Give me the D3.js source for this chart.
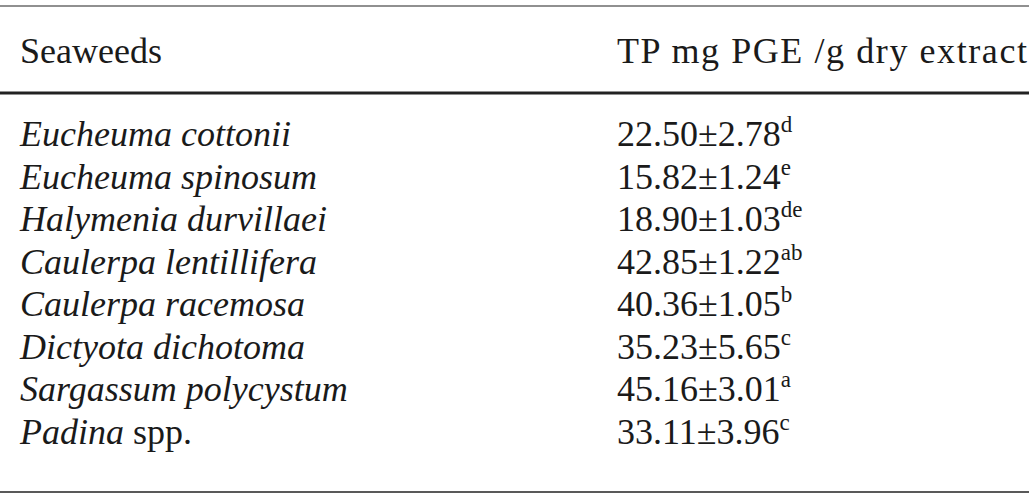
<!DOCTYPE html>
<html><head><meta charset="utf-8">
<script src="https://cdn.jsdelivr.net/npm/d3@7"></script>
<style>body{margin:0;background:#fff}text{font-family:"Liberation Serif","DejaVu Serif",serif;fill:#1a1a1a}</style>
</head><body>
<svg id="chart" width="1029" height="504"></svg>
<script>
// table content
const headers = ["Seaweeds", "TP mg PGE /g dry extract"];
const seaweeds = ["Eucheuma cottonii", "Eucheuma spinosum", "Halymenia durvillaei", "Caulerpa lentillifera",
  "Caulerpa racemosa", "Dictyota dichotoma", "Sargassum polycystum", "Padina"];
const suffixes = ["", "", "", "", "", "", "", " spp."];
const means = ["22.50", "15.82", "18.90", "42.85", "40.36", "35.23", "45.16", "33.11"];
const sds = ["2.78", "1.24", "1.03", "1.22", "1.05", "5.65", "3.01", "3.96"];
const letters = ["d", "e", "de", "ab", "b", "c", "a", "c"];

const svg = d3.select("#chart");
const fs = 36;
const y = d3.scalePoint().domain(d3.range(seaweeds.length)).range([146, 444]);
const colX = [20, 617];

svg.append("line").attr("x1", 0).attr("x2", 1029).attr("y1", 6).attr("y2", 6).attr("stroke", "#222").attr("stroke-width", 1.2);
svg.append("line").attr("x1", 0).attr("x2", 1029).attr("y1", 93).attr("y2", 93).attr("stroke", "#222").attr("stroke-width", 3);
svg.append("line").attr("x1", 0).attr("x2", 1029).attr("y1", 492).attr("y2", 492).attr("stroke", "#222").attr("stroke-width", 1.6);

svg.selectAll("text.head").data(headers).join("text").attr("class", "head")
  .attr("x", (d, i) => colX[i]).attr("y", 63).attr("font-size", fs)
  .attr("textLength", (d, i) => i === 1 ? 410 : null).text(d => d);

const rows = svg.selectAll("g.row").data(seaweeds).join("g").attr("class", "row");
const name = rows.append("text").attr("x", colX[0]).attr("y", (d, i) => y(i)).attr("font-size", fs);
name.append("tspan").attr("font-style", "italic").text(d => d);
name.append("tspan").text((d, i) => suffixes[i]);

const val = rows.append("text").attr("x", colX[1]).attr("y", (d, i) => y(i)).attr("font-size", fs);
val.append("tspan").text((d, i) => means[i] + "\u00b1" + sds[i]);
val.append("tspan").attr("font-size", 23).attr("dy", -14).text((d, i) => letters[i]);
</script>
</body></html>
